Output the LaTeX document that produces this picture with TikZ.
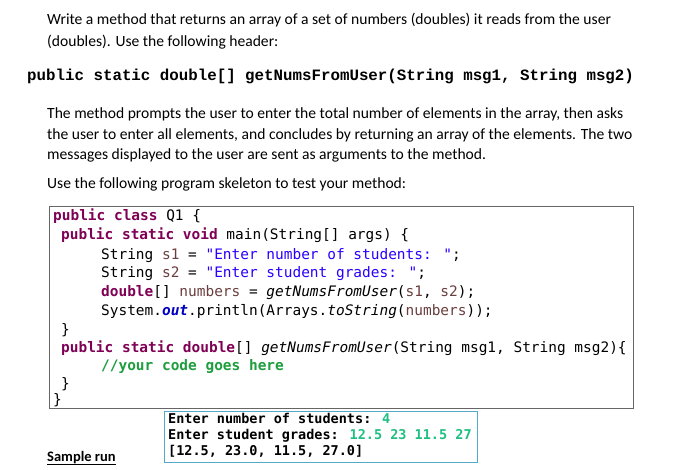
\documentclass[tikz,border=0pt]{standalone}
\usepackage{fontspec}
\setmainfont{Carlito}
\newfontfamily\code{DejaVu Sans Mono}
\newfontfamily\hdr{Liberation Mono}
\definecolor{kw}{HTML}{7F0055}
\definecolor{str}{HTML}{2A00FF}
\definecolor{var}{HTML}{6A3E3E}
\definecolor{cmt}{HTML}{1E9E3E}
\definecolor{outg}{HTML}{1FBF80}
\definecolor{out}{HTML}{0000C0}
\newcommand{\kwd}[1]{\textcolor{kw}{\bfseries #1}}
\begin{document}
\begin{tikzpicture}[x=1pt,y=-1pt,
  prose/.style={anchor=base west,inner sep=0pt,font=\fontsize{15.6}{18}\selectfont},
  cl/.style={anchor=base west,inner sep=0pt,font=\code\fontsize{14.45}{15}\selectfont},
  ol/.style={anchor=base west,inner sep=0pt,font=\code\bfseries\fontsize{13.5}{14}\selectfont}]
\useasboundingbox[fill=white] (0,0) rectangle (682,470);
\node[prose] (p1) at (47,25) {Write a method that returns an array of a set of numbers (doubles) it reads from the user};
\node[prose] (p2) at (47,47) {(doubles). Use the following header:};
\node[anchor=base west,inner sep=0pt,font=\hdr\bfseries\fontsize{15.8}{18}\selectfont] (h) at (27,81) {public static double[] getNumsFromUser(String msg1, String msg2)};
\node[prose] (p3) at (47,119) {The method prompts the user to enter the total number of elements in the array, then asks};
\node[prose] (p4) at (47,140) {the user to enter all elements, and concludes by returning an array of the elements. The two};
\node[prose] (p5) at (47,160) {messages displayed to the user are sent as arguments to the method.};
\node[prose] (p6) at (47,189) {Use the following program skeleton to test your method:};
\draw[draw=gray!80!black,line width=0.8pt] (49,206) rectangle (633,408);
\node[cl] (c1) at (53,221) {\kwd{public class} Q1 \{};
\node[cl] (c2) at (61,240) {\kwd{public static void} main(String[] args) \{};
\node[cl] (c3) at (101,259) {String \textcolor{var}{s1} = \textcolor{str}{"Enter number of students: "};};
\node[cl] (c4) at (101,277) {String \textcolor{var}{s2} = \textcolor{str}{"Enter student grades: "};};
\node[cl] (c5) at (101,296) {\kwd{double}[] \textcolor{var}{numbers} = \textit{getNumsFromUser}(\textcolor{var}{s1}, \textcolor{var}{s2});};
\node[cl] (c6) at (101,315) {System.\textcolor{out}{\bfseries\itshape out}.println(Arrays.\textit{toString}(\textcolor{var}{numbers}));};
\node[cl] (c7) at (61,334) {\}};
\node[cl] (c8) at (61,352) {\kwd{public static double}[] \textit{getNumsFromUser}(String msg1, String msg2)\{};
\node[cl] (c9) at (101,370) {\textcolor{cmt}{\bfseries //your code goes here}};
\node[cl] (c10) at (61,388) {\}};
\node[cl] (c11) at (53,404) {\}};
\draw[draw=cyan!60!gray,line width=0.8pt] (164,411) rectangle (477,462);
\node[ol] (o1) at (168,423) {Enter number of students: \textcolor{outg}{4}};
\node[ol] (o2) at (168,439) {Enter student grades: \textcolor{outg}{12.5 23 11.5 27}};
\node[ol] (o3) at (168,455) {[12.5, 23.0, 11.5, 27.0]};
\node[prose,font=\bfseries\fontsize{14.5}{16}\selectfont] (s) at (47,461) {\underline{Sample run}};
\end{tikzpicture}
\end{document}
